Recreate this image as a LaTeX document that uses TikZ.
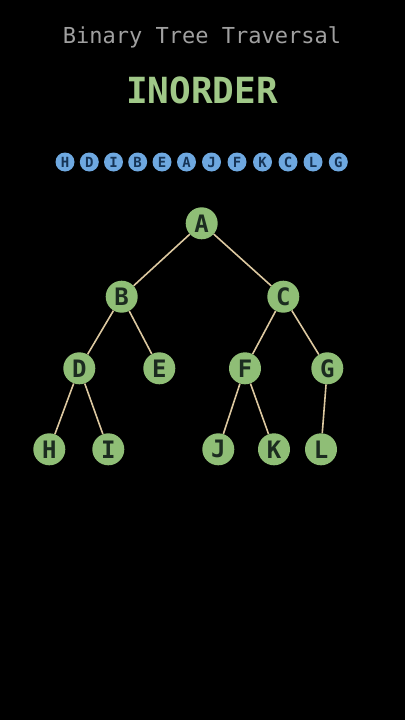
\documentclass[tikz,border=0pt]{standalone}
\usepackage{fontspec}
\setmonofont{DejaVu Sans Mono}
\begin{document}
\begin{tikzpicture}[x=1pt,y=-1pt,
  treenode/.style={circle,fill=nodegreen,inner sep=0pt,minimum size=32pt,
    font=\ttfamily\bfseries\fontsize{24}{24}\selectfont,text=nodetext},
  seqnode/.style={circle,fill=seqblue,inner sep=0pt,minimum size=19pt,
    font=\ttfamily\bfseries\fontsize{14}{14}\selectfont,text=seqtext},
  edge/.style={draw=edgecol,line width=1.6pt}]
\definecolor{nodegreen}{RGB}{143,190,118}
\definecolor{nodetext}{RGB}{28,44,32}
\definecolor{seqblue}{RGB}{110,168,224}
\definecolor{seqtext}{RGB}{22,52,86}
\definecolor{edgecol}{RGB}{220,200,160}
\definecolor{titlegray}{RGB}{160,160,160}
\definecolor{titlegreen}{RGB}{160,200,136}
\fill[black] (0,0) rectangle (405,720);
\useasboundingbox (0,0) rectangle (405,720);
\node[font=\ttfamily\fontsize{22}{22}\selectfont,text=titlegray] (title) at (202,37) {Binary Tree Traversal};
\node[font=\ttfamily\bfseries\fontsize{36}{36}\selectfont,text=titlegreen] (order) at (202,90) {INORDER};
% sequence
\foreach \l/\x [count=\i] in {H/65,D/89.3,I/113.5,B/137.7,E/162,A/186.5,J/211.5,F/237,K/262.5,C/288,L/313,G/338.3}
  \node[seqnode] (s\i) at (\x,162) {\l};
% tree
\node[treenode] (A) at (201.7,223.3) {A};
\node[treenode] (B) at (121.7,296.7) {B};
\node[treenode] (C) at (283.3,296.7) {C};
\node[treenode] (D) at (79.3,368.3) {D};
\node[treenode] (E) at (159.3,368.3) {E};
\node[treenode] (F) at (245,368.3) {F};
\node[treenode] (G) at (327.3,368.3) {G};
\node[treenode] (H) at (49.3,449.3) {H};
\node[treenode] (I) at (108.3,449.3) {I};
\node[treenode] (J) at (218.3,449.3) {J};
\node[treenode] (K) at (274,449.3) {K};
\node[treenode] (L) at (321,449.3) {L};
\draw[edge] (A) -- (B);
\draw[edge] (A) -- (C);
\draw[edge] (B) -- (D);
\draw[edge] (B) -- (E);
\draw[edge] (C) -- (F);
\draw[edge] (C) -- (G);
\draw[edge] (D) -- (H);
\draw[edge] (D) -- (I);
\draw[edge] (F) -- (J);
\draw[edge] (F) -- (K);
\draw[edge] (G) -- (L);
\end{tikzpicture}
\end{document}
